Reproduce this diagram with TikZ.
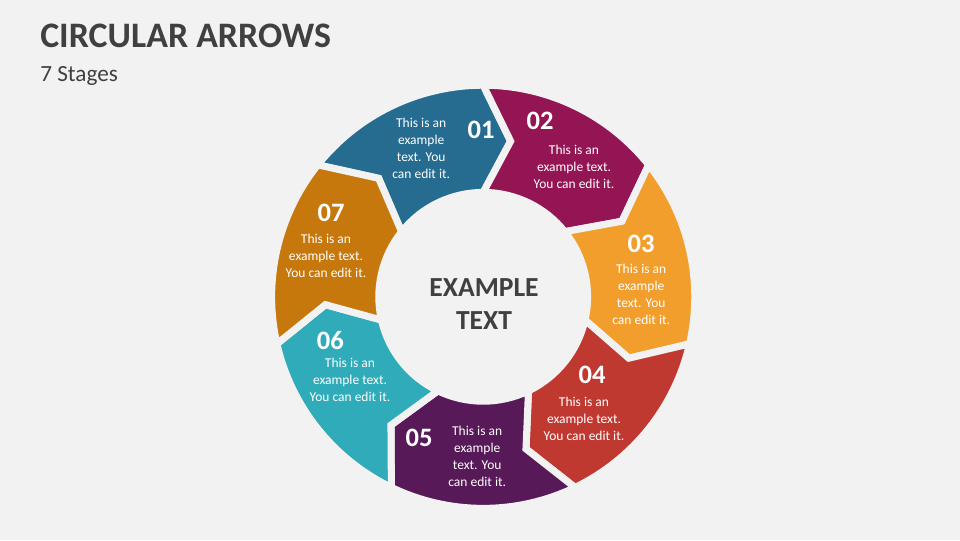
\documentclass[tikz,border=0pt]{standalone}
\usepackage{fontspec}
\setmainfont{Carlito}
\usepackage{xcolor}
\definecolor{bg}{HTML}{F2F2F2}
\definecolor{dark}{HTML}{404040}
\definecolor{stageA}{HTML}{266C91}
\definecolor{stageB}{HTML}{941554}
\definecolor{stageC}{HTML}{F29E2D}
\definecolor{stageD}{HTML}{C03931}
\definecolor{stageE}{HTML}{581958}
\definecolor{stageF}{HTML}{2FABB9}
\definecolor{stageG}{HTML}{C6780C}

\begin{document}
\begin{tikzpicture}[
	seg/.style={fill=#1, draw=bg, line width=5pt, line join=miter},
	num/.style={inner sep=0pt, text=white, font=\fontsize{18.9}{20}\selectfont\bfseries},
	body/.style={inner sep=0pt, text=white, align=center, font=\fontsize{9.6}{12.1}\selectfont}
	]
	\fill[bg] (0,0) rectangle (24,13.5);

	% Title
	\node[anchor=base west, inner sep=0pt, text=dark, font=\fontsize{25.5}{28}\selectfont\bfseries] (title) at (1.0,12.32) {CIRCULAR ARROWS};
	\node[anchor=base west, inner sep=0pt, text=dark, font=\fontsize{16.5}{18}\selectfont] (subtitle) at (1.0,11.47) {7 Stages};

	% Ring of arrows
	\begin{scope}[shift={(12.08,6.08)}]
		\foreach \k/\col in {1/stageA,2/stageB,3/stageC,4/stageD,5/stageE,6/stageF,7/stageG}{
			\pgfmathsetmacro\a{141.43-51.43*(\k-1)}
			\pgfmathsetmacro\b{\a-51.43}
			\pgfmathsetmacro\ta{\a-10}
			\pgfmathsetmacro\tb{\b-10}
			\filldraw[seg=\col] (\a:5.29) arc[start angle=\a, end angle=\b, radius=5.29] -- (\tb:3.95) -- (\b:2.61) arc[start angle=\b, end angle=\a, radius=2.61] -- (\ta:3.95) -- cycle;
		}
	\end{scope}

	% Center text
	\node[inner sep=0pt, align=center, text=dark, font=\fontsize{19.6}{23.5}\selectfont\bfseries] (hub) at (12.1,5.91) {EXAMPLE\\TEXT};

	% Numbers
	\node[num] (num1) at (12.03,10.25) {01};
	\node[num] (num2) at (13.5,10.49) {02};
	\node[num] (num3) at (16.03,7.4) {03};
	\node[num] (num4) at (14.8,4.13) {04};
	\node[num] (num5) at (10.48,2.55) {05};
	\node[num] (num6) at (8.26,4.99) {06};
	\node[num] (num7) at (8.28,8.18) {07};

	% Texts
	\node[body] (txt1) at (10.53,9.8) {This is an\\example\\text. You\\can edit it.};
	\node[body] (txt2) at (14.35,9.33) {This is an\\example text.\\You can edit it.};
	\node[body] (txt3) at (16.03,6.13) {This is an\\example\\text. You\\can edit it.};
	\node[body] (txt4) at (14.6,3.03) {This is an\\example text.\\You can edit it.};
	\node[body] (txt5) at (11.93,2.1) {This is an\\example\\text. You\\can edit it.};
	\node[body] (txt6) at (8.75,4.0) {This is an\\example text.\\You can edit it.};
	\node[body] (txt7) at (8.15,7.1) {This is an\\example text.\\You can edit it.};
\end{tikzpicture}
\end{document}
